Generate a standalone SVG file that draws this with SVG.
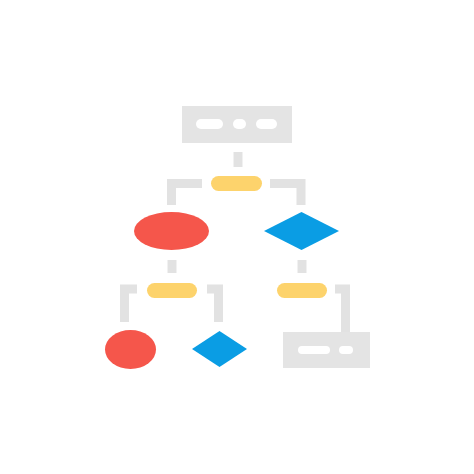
<svg xmlns="http://www.w3.org/2000/svg" width="474" height="474" viewBox="0 0 474 474">
<style>
.box{fill:#e4e4e4}
.dot{fill:#ffffff}
.line{fill:none;stroke:#e2e2e2;stroke-width:9}
.pill{fill:#fdd36c}
.oval{fill:#f5564b}
.dia{fill:#0a9de4}
</style>
<rect width="474" height="474" fill="#ffffff"/>
<g id="connectors">
<path class="line" d="M238,152 V167"/>
<path class="line" d="M202,183.5 H171.5 V205"/>
<path class="line" d="M270,183.5 H301 V205"/>
<path class="line" d="M172,260 V273"/>
<path class="line" d="M302,260 V273"/>
<path class="line" d="M137,289 H124.5 V322"/>
<path class="line" d="M207,289 H218.5 V322"/>
<path class="line" d="M335,289 H345.5 V332"/>
</g>
<g id="start">
<rect class="box" x="182" y="106" width="110" height="37"/>
<rect class="dot" x="196" y="119" width="27" height="10" rx="5"/>
<rect class="dot" x="233" y="119" width="13" height="10" rx="5"/>
<rect class="dot" x="256" y="119" width="21" height="10" rx="5"/>
</g>
<g id="branch1"><rect class="pill" x="211" y="176" width="51" height="15" rx="7.5"/></g>
<g id="oval1"><ellipse class="oval" cx="171.5" cy="231" rx="37.5" ry="19"/></g>
<g id="diamond1"><polygon class="dia" points="264,231 301.5,212 339,231 301.5,250"/></g>
<g id="branch2"><rect class="pill" x="147" y="283" width="50" height="15" rx="7.5"/></g>
<g id="branch3"><rect class="pill" x="277" y="283" width="50" height="15" rx="7.5"/></g>
<g id="oval2"><ellipse class="oval" cx="130.5" cy="349.5" rx="25.5" ry="19.5"/></g>
<g id="diamond2"><polygon class="dia" points="192,349 219.5,331 247,349 219.5,367"/></g>
<g id="end">
<rect class="box" x="283" y="332" width="87" height="36"/>
<rect class="dot" x="298" y="346" width="32" height="8" rx="4"/>
<rect class="dot" x="339" y="346" width="14" height="8" rx="4"/>
</g>
</svg>
